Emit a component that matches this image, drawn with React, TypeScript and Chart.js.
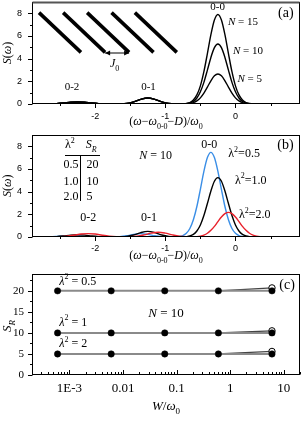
import React, { useEffect, useRef } from 'react';
import { Chart, registerables } from 'chart.js';
Chart.register(...registerables);

// ---------- Panel (a): S(ω) for N = 5, 10, 15 ----------
const xA = [-2.9, -2.75, -2.65, -2.55, -2.45, -2.35, -2.25, -2.15, -2.05, -1.95, -1.85, -1.75, -1.65, -1.55, -1.45, -1.35, -1.25, -1.15, -1.05, -0.95, -0.85, -0.75,
  -0.7, -0.65, -0.6, -0.55, -0.5, -0.45, -0.4, -0.35, -0.3, -0.25, -0.2, -0.15, -0.1, -0.05, 0, 0.05, 0.1, 0.15, 0.2, 0.3, 0.92];
const sidebandA = [0, 0, 0.008, 0.031, 0.082, 0.148, 0.18, 0.148, 0.082, 0.031, 0.008, 0, 0.009, 0.053, 0.19, 0.41, 0.53, 0.41, 0.19, 0.053, 0.009, 0];
const peakN15 = [0.05, 0.13, 0.35, 0.8, 1.6, 2.85, 4.45, 6.12, 7.41, 7.9, 7.41, 6.12, 4.45, 2.85, 1.6, 0.8, 0.35, 0.13, 0.05, 0, 0];
const peakN10 = [0.03, 0.09, 0.23, 0.53, 1.08, 1.91, 2.99, 4.11, 4.97, 5.3, 4.97, 4.11, 2.99, 1.91, 1.08, 0.53, 0.23, 0.09, 0.03, 0, 0];
const peakN5 = [0.02, 0.04, 0.12, 0.27, 0.54, 0.96, 1.49, 2.05, 2.49, 2.65, 2.49, 2.05, 1.49, 0.96, 0.54, 0.27, 0.12, 0.04, 0.02, 0, 0];
const xTicksAB = [-2, -1, 0];
const xMinorAB = [-2.5, -1.5, -0.5, 0.5];
const yTicksAB = [0, 2, 4, 6, 8];
const yMinorAB = [1, 3, 5, 7];
// inset sketch (molecules) in data units of panel (a)
const insetStartX = [-2.8, -2.456, -2.114, -1.766, -1.434];
const insetTopY = 8.06;
const insetBottomY = 4.56;
const insetDX = 0.598;
const arrowX = [-1.858, -1.516];
const arrowY = 4.5;

// ---------- Panel (b): S(ω) for λ² = 0.5, 1.0, 2.0 ----------
const xB05 = [-2.9, -2.75, -2.65, -2.55, -2.45, -2.35, -2.25, -2.15, -2.05, -1.95, -1.85, -1.75, -1.65, -1.55, -1.45, -1.35, -1.25, -1.15, -1.05, -0.95, -0.88,
  -0.8, -0.75, -0.7, -0.65, -0.6, -0.55, -0.5, -0.45, -0.4, -0.35, -0.3, -0.25, -0.2, -0.15, -0.1, -0.05, 0, 0.05, 0.1, 0.2, 0.92];
const yB05 = [0, 0.004, 0.017, 0.046, 0.082, 0.1, 0.082, 0.046, 0.017, 0.004, 0, 0.01, 0.03, 0.11, 0.23, 0.3, 0.23, 0.11, 0.03, 0.01, 0,
  0.04, 0.13, 0.33, 0.75, 1.52, 2.69, 4.21, 5.79, 7.01, 7.47, 7.01, 5.79, 4.21, 2.69, 1.52, 0.75, 0.33, 0.13, 0.04, 0, 0];
const xB10 = [-2.9, -2.75, -2.65, -2.55, -2.45, -2.35, -2.25, -2.15, -2.05, -1.95, -1.85, -1.75, -1.65, -1.55, -1.45, -1.35, -1.25, -1.15, -1.05, -0.95, -0.85, -0.75,
  -0.7, -0.65, -0.6, -0.55, -0.5, -0.45, -0.4, -0.35, -0.3, -0.25, -0.2, -0.15, -0.1, -0.05, 0, 0.05, 0.1, 0.15, 0.2, 0.3, 0.92];
const yB10 = [0, 0, 0.009, 0.034, 0.092, 0.164, 0.2, 0.164, 0.092, 0.034, 0.009, 0, 0.01, 0.05, 0.18, 0.39, 0.5, 0.39, 0.18, 0.05, 0.01, 0,
  0.03, 0.09, 0.23, 0.53, 1.06, 1.89, 2.95, 4.06, 4.92, 5.24, 4.92, 4.06, 2.95, 1.89, 1.06, 0.53, 0.23, 0.09, 0.03, 0, 0];
const xB20 = [-2.9, -2.7, -2.6, -2.5, -2.4, -2.3, -2.2, -2.1, -2.0, -1.9, -1.8, -1.7, -1.6, -1.5, -1.4, -1.3, -1.2, -1.1, -1.0, -0.9, -0.8, -0.7, -0.6,
  -0.55, -0.5, -0.45, -0.4, -0.35, -0.3, -0.25, -0.2, -0.15, -0.1, -0.05, 0, 0.05, 0.1, 0.15, 0.2, 0.25, 0.3, 0.35, 0.45, 0.92];
const yB20 = [0, 0, 0.006, 0.025, 0.075, 0.16, 0.26, 0.3, 0.26, 0.16, 0.075, 0.025, 0.01, 0.02, 0.07, 0.19, 0.34, 0.42, 0.34, 0.19, 0.07, 0.02, 0.01,
  0.03, 0.08, 0.17, 0.33, 0.59, 0.94, 1.36, 1.76, 2.06, 2.17, 2.06, 1.76, 1.36, 0.94, 0.59, 0.33, 0.17, 0.08, 0.03, 0, 0];

// ---------- Panel (c): S_R vs W/ω0 ----------
const wRatio = [0.0006, 0.006, 0.06, 0.6, 6];
const sr05 = [20, 20, 20, 20, 20];
const sr05open = [20, 20, 20, 20, 20.7];
const sr10 = [10, 10, 10, 10, 10];
const sr10open = [10, 10, 10, 10, 10.5];
const sr20 = [5, 5, 5, 5, 5];
const sr20open = [5, 5, 5, 5, 5.6];
const xTicksC = [0.001, 0.01, 0.1, 1, 10];
const xTickLabelsC = ['1E-3', '0.01', '0.1', '1', '10'];
const yTicksC = [0, 5, 10, 15, 20];
const yMinorC = [2.5, 7.5, 12.5, 17.5, 22.5];

const SERIF = '"Liberation Serif", "Times New Roman", serif';
const SANS = '"Liberation Sans", Arial, sans-serif';

type Part = { t: string; i?: boolean; sub?: boolean; sup?: boolean };
type TextSpec = { x: number; y: number; parts: Part[]; size: number; align?: 'left' | 'center' | 'right'; rot?: boolean };
type Seg = { x1: number; y1: number; x2: number; y2: number; w: number; data?: boolean; arrows?: boolean; color?: string };

const P = (t: string, o: Partial<Part> = {}): Part => ({ t, ...o });

function drawRich(ctx: CanvasRenderingContext2D, parts: Part[], x: number, y: number, size: number, align: string) {
  const fontFor = (p: Part) => `${p.i ? 'italic ' : ''}${p.sub || p.sup ? Math.round(size * 0.66) : size}px ${SERIF}`;
  let w = 0;
  for (const p of parts) { ctx.font = fontFor(p); w += ctx.measureText(p.t).width; }
  let cx = align === 'center' ? x - w / 2 : align === 'right' ? x - w : x;
  ctx.textBaseline = 'middle';
  ctx.textAlign = 'left';
  ctx.fillStyle = '#000';
  for (const p of parts) {
    ctx.font = fontFor(p);
    const dy = p.sub ? size * 0.38 : p.sup ? -size * 0.36 : 0;
    ctx.fillText(p.t, cx, y + dy);
    cx += ctx.measureText(p.t).width;
  }
}

type Spec = {
  xMajor: number[]; xMinor: number[]; xDir: number;
  yMajor: number[]; yMinor: number[];
  texts: TextSpec[]; segs: Seg[]; topColor?: string; topWidth?: number;
};

function decor(spec: Spec) {
  return {
    id: 'decor',
    afterDraw(chart: any) {
      const ctx: CanvasRenderingContext2D = chart.ctx;
      const a = chart.chartArea;
      const xs = chart.scales.x, ys = chart.scales.y;
      ctx.save();
      ctx.strokeStyle = '#000';
      ctx.lineWidth = 1;
      const L = Math.round(a.left) + 0.5, R = Math.round(a.right) - 0.5, T = Math.round(a.top) + 0.5, B = Math.round(a.bottom) - 0.5;
      ctx.strokeRect(L, T, R - L, B - T);
      if (spec.topColor) {
        ctx.strokeStyle = spec.topColor; ctx.lineWidth = spec.topWidth || 2;
        ctx.beginPath(); ctx.moveTo(L, T); ctx.lineTo(R, T); ctx.stroke();
        ctx.strokeStyle = '#000'; ctx.lineWidth = 1;
      }
      const tx = (vals: number[], len: number) => vals.forEach(v => {
        const p = Math.round(xs.getPixelForValue(v)) + 0.5;
        ctx.beginPath(); ctx.moveTo(p, B); ctx.lineTo(p, B + spec.xDir * len); ctx.stroke();
      });
      const ty = (vals: number[], len: number) => vals.forEach(v => {
        const p = Math.round(ys.getPixelForValue(v)) + 0.5;
        ctx.beginPath(); ctx.moveTo(L, p); ctx.lineTo(L - len, p); ctx.stroke();
      });
      tx(spec.xMajor, 4.5); tx(spec.xMinor, 2.5);
      ty(spec.yMajor, 4.5); ty(spec.yMinor, 2.5);
      for (const s of spec.segs) {
        let x1 = s.x1, y1 = s.y1, x2 = s.x2, y2 = s.y2;
        if (s.data) {
          x1 = xs.getPixelForValue(s.x1); x2 = xs.getPixelForValue(s.x2);
          y1 = ys.getPixelForValue(s.y1); y2 = ys.getPixelForValue(s.y2);
        }
        ctx.strokeStyle = s.color || '#000';
        ctx.lineWidth = s.w;
        ctx.lineCap = 'butt';
        ctx.beginPath(); ctx.moveTo(x1, y1); ctx.lineTo(x2, y2); ctx.stroke();
        if (s.arrows) {
          ctx.fillStyle = '#000';
          const head = (x: number, y: number, d: number) => {
            ctx.beginPath(); ctx.moveTo(x, y); ctx.lineTo(x - d * 5, y - 2.5); ctx.lineTo(x - d * 5, y + 2.5); ctx.closePath(); ctx.fill();
          };
          head(x1, y1, -1); head(x2, y2, 1);
        }
      }
      for (const t of spec.texts) {
        if (t.rot) {
          ctx.save(); ctx.translate(t.x, t.y); ctx.rotate(-Math.PI / 2);
          drawRich(ctx, t.parts, 0, 0, t.size, 'center');
          ctx.restore();
        } else {
          drawRich(ctx, t.parts, t.x, t.y, t.size, t.align || 'left');
        }
      }
      ctx.restore();
    },
  };
}

const xTitleParts: Part[] = [P('('), P('ω', { i: true }), P('−'), P('ω', { i: true }), P('0-0', { sub: true }), P('−'), P('D', { i: true }), P(')/'), P('ω', { i: true }), P('0', { sub: true })];
const sOmegaParts: Part[] = [P('S', { i: true }), P('('), P('ω', { i: true }), P(')')];

const curve = (xv: number[], yv: number[], color: string) => ({
  data: xv.map((x, i) => ({ x, y: yv[i] })),
  borderColor: color, borderWidth: 1.4, pointRadius: 0, cubicInterpolationMode: 'monotone', fill: false,
});

const fitX = (h: number) => (s: any) => { s.height = h; s.paddingLeft = 0; s.paddingRight = 0; s.paddingTop = 0; s.paddingBottom = 0; };
const fitY = (w: number) => (s: any) => { s.width = w; s.paddingTop = 0; s.paddingBottom = 0; s.paddingLeft = 0; s.paddingRight = 0; };

function linearScales(xTickPad: number, axisH: number) {
  return {
    x: {
      type: 'linear', min: -2.9, max: 0.92,
      grid: { display: false, drawTicks: false }, border: { display: false },
      ticks: { font: { family: SANS, size: 9 }, color: '#000', padding: xTickPad, maxRotation: 0 },
      afterBuildTicks: (s: any) => { s.ticks = xTicksAB.map(v => ({ value: v })); },
      afterFit: fitX(axisH),
    },
    y: {
      type: 'linear', min: 0, max: 9,
      grid: { display: false, drawTicks: false }, border: { display: false },
      ticks: { font: { family: SANS, size: 9 }, color: '#000', padding: 10 },
      afterBuildTicks: (s: any) => { s.ticks = yTicksAB.map(v => ({ value: v })); },
      afterFit: fitY(32),
    },
  };
}

function configA(): any {
  const segs: Seg[] = insetStartX.map(x => ({ x1: x, y1: insetTopY, x2: x + insetDX, y2: insetBottomY, w: 3.6, data: true }));
  segs.push({ x1: arrowX[0], y1: arrowY, x2: arrowX[1], y2: arrowY, w: 1, data: true, arrows: true });
  return {
    type: 'line',
    data: {
      datasets: [
        curve(xA, sidebandA.concat(peakN15), '#000'),
        curve(xA, sidebandA.concat(peakN10), '#000'),
        curve(xA, sidebandA.concat(peakN5), '#000'),
      ],
    },
    options: {
      animation: false, responsive: false, maintainAspectRatio: false,
      layout: { padding: { top: 2, right: 4, left: 0, bottom: 0 }, autoPadding: false },
      plugins: { legend: { display: false }, tooltip: { enabled: false } },
      scales: linearScales(7, 26),
    },
    plugins: [decor({
      xMajor: xTicksAB, xMinor: xMinorAB, xDir: 1, yMajor: yTicksAB, yMinor: yMinorAB, segs, topColor: '#555', topWidth: 2,
      texts: [
        { x: 217.7, y: 7, parts: [P('0-0')], size: 11, align: 'center' },
        { x: 228, y: 22, parts: [P('N', { i: true }), P(' = 15')], size: 11 },
        { x: 233, y: 51, parts: [P('N', { i: true }), P(' = 10')], size: 11 },
        { x: 237.5, y: 79.5, parts: [P('N', { i: true }), P(' = 5')], size: 11 },
        { x: 278, y: 13.5, parts: [P('(a)')], size: 14 },
        { x: 72, y: 87.5, parts: [P('0-2')], size: 11, align: 'center' },
        { x: 148.5, y: 87.5, parts: [P('0-1')], size: 11, align: 'center' },
        { x: 110, y: 64, parts: [P('J', { i: true }), P('0', { sub: true })], size: 12 },
        { x: 166, y: 122, parts: xTitleParts, size: 12, align: 'center' },
        { x: 8, y: 53, parts: sOmegaParts, size: 12, rot: true },
      ],
    })],
  };
}

function configB(): any {
  return {
    type: 'line',
    data: {
      datasets: [
        curve(xB20, yB20, '#e8202a'),
        curve(xB10, yB10, '#000'),
        curve(xB05, yB05, '#3a8ee6'),
      ],
    },
    options: {
      animation: false, responsive: false, maintainAspectRatio: false,
      layout: { padding: { top: 5, right: 4, left: 0, bottom: 0 }, autoPadding: false },
      plugins: { legend: { display: false }, tooltip: { enabled: false } },
      scales: linearScales(6, 33),
    },
    plugins: [decor({
      xMajor: xTicksAB, xMinor: xMinorAB, xDir: 1, yMajor: yTicksAB, yMinor: yMinorAB,
      segs: [
        { x1: 65, y1: 25.5, x2: 100, y2: 25.5, w: 1 },
        { x1: 80.5, y1: 25.5, x2: 80.5, y2: 71, w: 1 },
      ],
      texts: [
        { x: 209.3, y: 15, parts: [P('0-0')], size: 12, align: 'center' },
        { x: 228.3, y: 24, parts: [P('λ'), P('2', { sup: true }), P('=0.5')], size: 12 },
        { x: 235, y: 50.7, parts: [P('λ'), P('2', { sup: true }), P('=1.0')], size: 12 },
        { x: 239, y: 85, parts: [P('λ'), P('2', { sup: true }), P('=2.0')], size: 12 },
        { x: 277.3, y: 15, parts: [P('(b)')], size: 14 },
        { x: 88.3, y: 88.3, parts: [P('0-2')], size: 12, align: 'center' },
        { x: 149, y: 88.3, parts: [P('0-1')], size: 12, align: 'center' },
        { x: 139.3, y: 26, parts: [P('N', { i: true }), P(' = 10')], size: 12 },
        { x: 65, y: 15, parts: [P('λ'), P('2', { sup: true })], size: 12 },
        { x: 85.7, y: 15, parts: [P('S', { i: true }), P('R', { sub: true, i: true })], size: 12 },
        { x: 78.5, y: 35, parts: [P('0.5')], size: 12, align: 'right' },
        { x: 86.5, y: 35, parts: [P('20')], size: 12 },
        { x: 78.5, y: 51.7, parts: [P('1.0')], size: 12, align: 'right' },
        { x: 86.5, y: 51.7, parts: [P('10')], size: 12 },
        { x: 78.5, y: 66.7, parts: [P('2.0')], size: 12, align: 'right' },
        { x: 86.5, y: 66.7, parts: [P('5')], size: 12 },
        { x: 166, y: 126, parts: xTitleParts, size: 12, align: 'center' },
        { x: 8, y: 55.7, parts: sOmegaParts, size: 12, rot: true },
      ],
    })],
  };
}

function configC(): any {
  const filled = (yv: number[]) => ({
    data: wRatio.map((x, i) => ({ x, y: yv[i] })),
    borderColor: '#8a8a8a', borderWidth: 2, pointRadius: 3.2, pointBackgroundColor: '#000', pointBorderColor: '#000', pointBorderWidth: 0.5,
  });
  const open = (yv: number[]) => ({
    data: wRatio.map((x, i) => ({ x, y: i >= 3 ? yv[i] : null })),
    borderColor: '#444', borderWidth: 1.2, spanGaps: false,
    pointRadius: (c: any) => (c.dataIndex === 4 ? 3.2 : 0),
    pointBackgroundColor: '#fff', pointBorderColor: '#000', pointBorderWidth: 1,
  });
  const xMinor: number[] = [];
  for (let e = -4; e <= 1; e++) for (let m = 2; m <= 9; m++) { const v = m * Math.pow(10, e); if (v >= 2e-4 && v <= 20) xMinor.push(v); }
  return {
    type: 'line',
    data: { datasets: [filled(sr05), filled(sr10), filled(sr20), open(sr05open), open(sr10open), open(sr20open)] },
    options: {
      animation: false, responsive: false, maintainAspectRatio: false,
      layout: { padding: { top: 4, right: 4, left: 0, bottom: 0 }, autoPadding: false },
      plugins: { legend: { display: false }, tooltip: { enabled: false } },
      scales: {
        x: {
          type: 'logarithmic', min: 2e-4, max: 20,
          grid: { display: false, drawTicks: false }, border: { display: false },
          ticks: { font: { family: SERIF, size: 13 }, color: '#000', padding: 6, maxRotation: 0, autoSkip: false, callback: (_v: any, i: number) => xTickLabelsC[i] },
          afterBuildTicks: (s: any) => { s.ticks = xTicksC.map(v => ({ value: v })); },
          afterFit: fitX(46),
        },
        y: {
          type: 'linear', min: 0, max: 24,
          grid: { display: false, drawTicks: false }, border: { display: false },
          ticks: { font: { family: SERIF, size: 11 }, color: '#000', padding: 8 },
          afterBuildTicks: (s: any) => { s.ticks = yTicksC.map(v => ({ value: v })); },
          afterFit: fitY(32),
        },
      },
    },
    plugins: [decor({
      xMajor: xTicksC, xMinor, xDir: -1, yMajor: yTicksC, yMinor: yMinorC, segs: [],
      texts: [
        { x: 59.3, y: 11.7, parts: [P('λ', { i: true }), P('2', { sup: true }), P(' = 0.5')], size: 12 },
        { x: 59.3, y: 52.7, parts: [P('λ', { i: true }), P('2', { sup: true }), P(' = 1')], size: 12 },
        { x: 59.3, y: 74, parts: [P('λ', { i: true }), P('2', { sup: true }), P(' = 2')], size: 12 },
        { x: 148.3, y: 43.3, parts: [P('N', { i: true }), P(' = 10')], size: 13 },
        { x: 279.3, y: 15, parts: [P('(c)')], size: 14 },
        { x: 166, y: 137, parts: [P('W', { i: true }), P('/'), P('ω', { i: true }), P('0', { sub: true })], size: 13, align: 'center' },
        { x: 8, y: 56, parts: [P('S', { i: true }), P('R', { sub: true, i: true })], size: 13, rot: true },
      ],
    })],
  };
}

function Panel({ top, height, make }: { top: number; height: number; make: () => any }) {
  const ref = useRef<HTMLCanvasElement>(null);
  useEffect(() => {
    const chart = new Chart(ref.current as HTMLCanvasElement, make());
    return () => chart.destroy();
  }, []);
  return <canvas ref={ref} width={304} height={height} style={{ position: 'absolute', left: 0, top, width: 304, height }} />;
}

export default function App() {
  return (
    <div style={{ position: 'absolute', left: 0, top: 0, width: 304, height: 421, background: '#fff' }}>
      <Panel top={0} height={130} make={configA} />
      <Panel top={130} height={140} make={configB} />
      <Panel top={270} height={151} make={configC} />
    </div>
  );
}
